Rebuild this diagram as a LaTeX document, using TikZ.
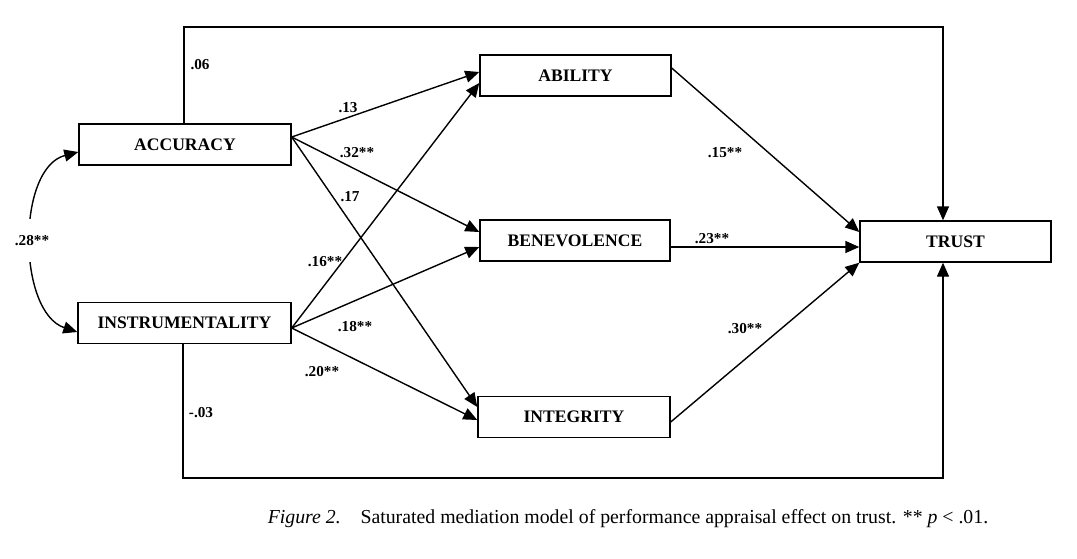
\documentclass[tikz,border=0pt]{standalone}
\usepackage{fontspec}
\setmainfont{Liberation Serif}
\usetikzlibrary{positioning, arrows.meta}

\begin{document}
\begin{tikzpicture}[
    x=0.5pt, y=-0.5pt,
    var/.style={
        draw,
        rectangle,
        line width=0.7pt,
        minimum height=20.5pt,
        inner sep=0pt,
        font=\fontsize{8.8}{10}\selectfont\bfseries
    },
    coef/.style={font=\fontsize{7.6}{9}\selectfont\bfseries, inner sep=1pt},
    effect/.style={line width=0.7pt, -{Triangle[length=7pt, width=6pt]}}
]
\useasboundingbox (0,0) rectangle (1077,558);

% predictors
\node[var, minimum width=106pt] (accuracy) at (185,144.5) {ACCURACY};
\node[var, minimum width=106.5pt] (instrument) at (184.5,323) {INSTRUMENTALITY};

% mediators
\node[var, minimum width=95.5pt] (ability) at (575.5,75.5) {ABILITY};
\node[var, minimum width=95pt] (benevolence) at (575,240.5) {BENEVOLENCE};
\node[var, minimum width=96pt] (integrity) at (574,417) {INTEGRITY};

% outcome
\node[var, minimum width=95.5pt] (trust) at (955.5,241.5) {TRUST};

% direct paths round the outside
\coordinate (topL) at (184,27);
\coordinate (topR) at (943,27);
\coordinate (botL) at (183,478);
\coordinate (botR) at (943,478);
\draw[effect] (accuracy.north -| topL) -- (topL) -- (topR) -- (trust.north -| topR);
\draw[effect] (instrument.south -| botL) -- (botL) -- (botR) -- (trust.south -| botR);

% predictors to mediators
\draw[effect] ([yshift=3.75pt]accuracy.east) -- ([yshift=1.75pt]ability.west);
\draw[effect] ([yshift=3.75pt]accuracy.east) -- ([yshift=4.25pt]benevolence.west);
\draw[effect] ([yshift=3.75pt]accuracy.east) -- ([yshift=5pt]integrity.west);
\draw[effect] ([yshift=-2.5pt]instrument.east) -- ([yshift=-3.75pt]ability.west);
\draw[effect] ([yshift=-2.5pt]instrument.east) -- ([yshift=-3.25pt]benevolence.west);
\draw[effect] ([yshift=-2.5pt]instrument.east) -- ([yshift=-1.5pt]integrity.west);

% mediators to trust
\draw[effect] ([yshift=3.75pt]ability.east) -- ([yshift=4.75pt]trust.west);
\draw[effect] ([yshift=-3.25pt]benevolence.east) -- ([yshift=-2.75pt]trust.west);
\draw[effect] ([yshift=-2.5pt]integrity.east) -- (trust.south west);

% correlation between predictors
\draw[line width=0.7pt, {Triangle[length=7pt, width=6pt]}-{Triangle[length=7pt, width=6pt]}]
    ([yshift=-3.75pt]accuracy.west) .. controls +(-62,16) and +(-60,-20) .. ([yshift=-4.5pt]instrument.west)
    node[coef, pos=0.5, fill=white, inner ysep=8pt] (r28) {.28**};

% path coefficients
\node[coef] (c06) at (200,65) {.06};
\node[coef] (c13) at (348,108) {.13};
\node[coef] (c32) at (357,153) {.32**};
\node[coef] (c17) at (350,197) {.17};
\node[coef] (c16) at (325,262) {.16**};
\node[coef] (c18) at (355,327) {.18**};
\node[coef] (c20) at (322,372) {.20**};
\node[coef] (c03) at (201,413) {-.03};
\node[coef] (c15) at (725,153) {.15**};
\node[coef] (c23) at (712,239) {.23**};
\node[coef] (c30) at (745,329) {.30**};

% caption
\node[font=\fontsize{9.9}{12}\selectfont] (caption) at (628,519)
    {\textit{Figure 2.}\quad Saturated mediation model of performance appraisal effect on trust. ** \textit{p} < .01.};
\end{tikzpicture}
\end{document}
